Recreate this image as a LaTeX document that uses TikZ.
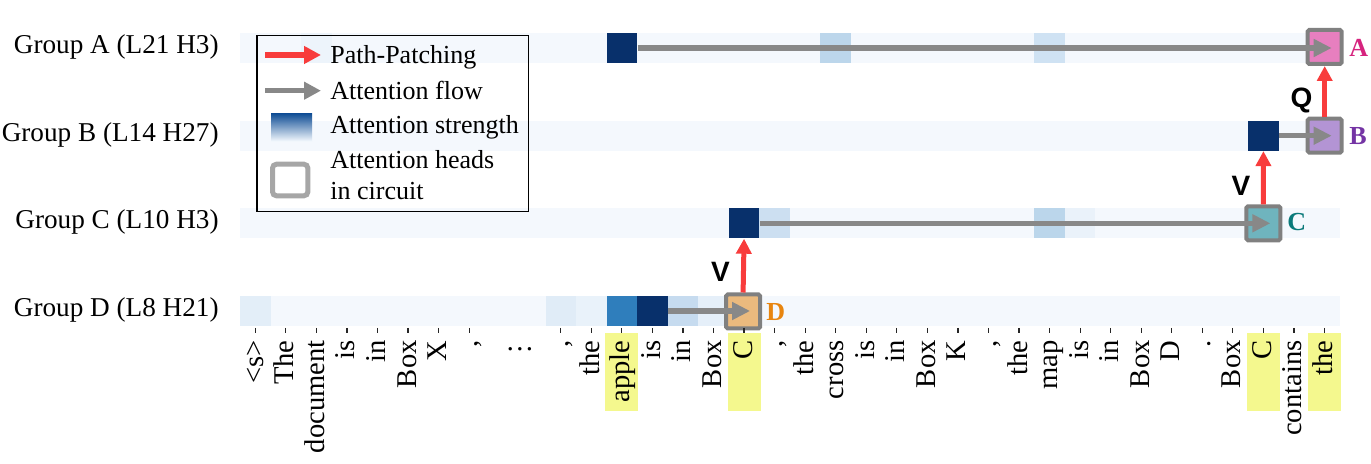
\documentclass[tikz,border=0pt]{standalone}
\usepackage{fontspec}
\setmainfont{Liberation Serif}
\newfontfamily\qvfont{Liberation Sans}
\usetikzlibrary{arrows.meta}
\definecolor{navy}{HTML}{08306B}
\definecolor{stripbg}{HTML}{F4F8FD}
\definecolor{cAa}{HTML}{EDF4FB}
\definecolor{cAb}{HTML}{BCD6EB}
\definecolor{cAc}{HTML}{CFE2F3}
\definecolor{cCa}{HTML}{CCDFF1}
\definecolor{cCb}{HTML}{BBD6EB}
\definecolor{cCc}{HTML}{EAF2FA}
\definecolor{cDa}{HTML}{E3EEF8}
\definecolor{cDb}{HTML}{E0ECF7}
\definecolor{cDc}{HTML}{E9F2FA}
\definecolor{cDd}{HTML}{2F7EBC}
\definecolor{cDe}{HTML}{C6DBEF}
\definecolor{cDf}{HTML}{E5EFF9}
\definecolor{boxgray}{HTML}{808080}
\definecolor{leggray}{HTML}{A6A6A6}
\definecolor{flowgray}{HTML}{888888}
\definecolor{patchred}{HTML}{F83C3C}
\definecolor{hl}{HTML}{F4F88E}
\definecolor{fillA}{HTML}{E77FBF}
\definecolor{fillB}{HTML}{B394D4}
\definecolor{fillC}{HTML}{6FB4BE}
\definecolor{fillD}{HTML}{EBBA7E}
\definecolor{colA}{HTML}{D6237E}
\definecolor{colB}{HTML}{7434A4}
\definecolor{colC}{HTML}{0B7A7A}
\definecolor{colD}{HTML}{E8850F}
\definecolor{gradtop}{HTML}{0E4C94}
\definecolor{gradmid}{HTML}{6AAAD8}
\definecolor{gradbot}{HTML}{F7FBFF}
\begin{document}
\begin{tikzpicture}[x=0.5pt,y=-0.5pt,
  cellnode/.style={inner sep=0pt, minimum width=15.275pt, minimum height=15pt, draw=none},
  headbox/.style={draw=boxgray, line width=2pt, rounded corners=0.8pt, minimum size=17pt, inner sep=0pt},
  flow/.style={draw=flowgray, line width=2.6pt, -{Triangle[length=9pt,width=8.5pt]}},
  patch/.style={draw=patchred, line width=2.5pt, -{Triangle[length=7.5pt,width=7.5pt]}},
  legpatch/.style={draw=patchred, line width=2.8pt, -{Triangle[length=8.5pt,width=8.5pt]}},
  legflow/.style={draw=flowgray, line width=2.8pt, -{Triangle[length=8.5pt,width=8.5pt]}},
  grouplabel/.style={font=\fontsize{13.6}{16}\selectfont, anchor=east, inner sep=0pt},
  tokenlabel/.style={font=\fontsize{14.3}{17}\selectfont, rotate=90, anchor=base east, inner sep=0pt},
  legendtext/.style={font=\fontsize{13}{15}\selectfont, anchor=base west, inner sep=0pt},
  headletter/.style={font=\fontsize{13}{15}\selectfont\bfseries, inner sep=0pt, anchor=west},
  qvlabel/.style={font=\qvfont\fontsize{14}{16}\selectfont\bfseries, inner sep=0pt},
  tickmark/.style={draw=black!85, line width=0.6pt},
]
\useasboundingbox (0,0) rectangle (1371,464);

% row strips
\foreach \yy in {48,135.7,223.3,311}
  \fill[stripbg] (240,{\yy-15}) rectangle (1340,{\yy+15});

% coloured attention cells
\foreach \i/\yy/\c in {2/48/cAa,19/48/cAb,26/48/cAc,
                        17/223.3/cCa,26/223.3/cCb,27/223.3/cCc,
                        0/311/cDa,10/311/cDb,11/311/cDc,12/311/cDd,14/311/cDe,15/311/cDf}
  \fill[\c] ({240+30.55*\i},{\yy-15}) rectangle ({240+30.55*(\i+1)},{\yy+15});

% strongest cells
\node[cellnode, fill=navy] (nA) at ({240+30.55*12.5},48) {};
\node[cellnode, fill=navy] (nB) at ({240+30.55*33.5},135.7) {};
\node[cellnode, fill=navy] (nC) at ({240+30.55*16.5},223.3) {};
\node[cellnode, fill=navy] (nD) at ({240+30.55*13.5},311) {};

% group labels
\node[grouplabel] (gA) at (219,47) {Group A (L21 H3)};
\node[grouplabel] (gB) at (219,134.7) {Group B (L14 H27)};
\node[grouplabel] (gC) at (219,222.3) {Group C (L10 H3)};
\node[grouplabel] (gD) at (219,310) {Group D (L8 H21)};

% circuit heads
\node[headbox, fill=fillA] (hA) at (1324.7,47) {};
\node[headbox, fill=fillB] (hB) at (1324.7,135.7) {};
\node[headbox, fill=fillC] (hC) at (1263.4,223.3) {};
\node[headbox, fill=fillD] (hD) at (743.1,311.5) {};

\node[headletter, text=colA] (lA) at (1349,47.5) {A};
\node[headletter, text=colB] (lB) at (1349,136.5) {B};
\node[headletter, text=colC] (lC) at (1287,222.5) {C};
\node[headletter, text=colD] (lD) at (766,311.7) {D};

% attention flow arrows
\coordinate (tA) at ([xshift=3.5pt]hA.center);
\coordinate (tB) at ([xshift=3.5pt]hB.center);
\coordinate (tC) at ([xshift=3.5pt]hC.center);
\coordinate (tD) at ([xshift=3.5pt]hD.center);
\draw[flow] (nA.east) -- (nA.east -| tA);
\draw[flow] (nB.east) -- (nB.east -| tB);
\draw[flow] (nC.east) -- (nC.east -| tC);
\draw[flow] (nD.east) -- (nD.east -| tD);

% path patching arrows
\draw[patch] (hD.north) -- (nC.south);
\draw[patch] (hC.north) -- (nB.south);
\draw[patch] (hB.north) -- (hA.south);
\node[qvlabel] (q1) at (1301.5,100) {Q};
\node[qvlabel] (v1) at (1241,186) {V};
\node[qvlabel] (v2) at (720.5,272) {V};

% highlights
\foreach \i in {12,16,33,35}{
  \pgfmathsetmacro\cx{240+30.55*(\i+0.5)}
  \fill[hl] ({\cx-16.5},333) rectangle ({\cx+16.5},411);
}

% tokens
\foreach \i/\t in {0/{<s>},1/The,2/document,3/is,4/in,5/Box,6/X,7/{,},10/{,},11/the,12/apple,13/is,14/in,15/Box,16/C,17/{,},18/the,19/cross,20/is,21/in,22/Box,23/K,24/{,},25/the,26/map,27/is,28/in,29/Box,30/D,31/.,32/Box,33/C,34/contains,35/the}{
  \pgfmathsetmacro\cx{240+30.55*(\i+0.5)}
  \draw[tickmark] (\cx,328) -- (\cx,333);
  \node[tokenlabel] (tok\i) at ({\cx+8},340) {\t};
}
\node[font=\fontsize{14.3}{17}\selectfont, anchor=base, inner sep=0pt] (dots) at (520,351) {…};

% legend
\node[draw=black, line width=0.6pt, minimum width=135.8pt, minimum height=87.8pt, inner sep=0pt] (legend) at (392.8,123.5) {};
\coordinate (lp1) at (265,55);
\coordinate (lp2) at (321,55);
\draw[legpatch] (lp1) -- (lp2);
\coordinate (lf1) at (265,90.7);
\coordinate (lf2) at (321,90.7);
\draw[legflow] (lf1) -- (lf2);
\shade[top color=gradtop, middle color=gradmid, bottom color=gradbot] (271,113.3) rectangle (312,141.7);
\node[draw=leggray, line width=2.5pt, rounded corners=2pt, minimum width=17.7pt, minimum height=15.8pt, inner sep=0pt] (lsq) at (290.2,180) {};
\node[legendtext] (lt1) at (330,63.5) {Path-Patching};
\node[legendtext] (lt2) at (330,100) {Attention flow};
\node[legendtext] (lt3) at (330,134) {Attention strength};
\node[legendtext] (lt4) at (330,169) {Attention heads};
\node[legendtext] (lt5) at (330,200) {in circuit};
\end{tikzpicture}
\end{document}
